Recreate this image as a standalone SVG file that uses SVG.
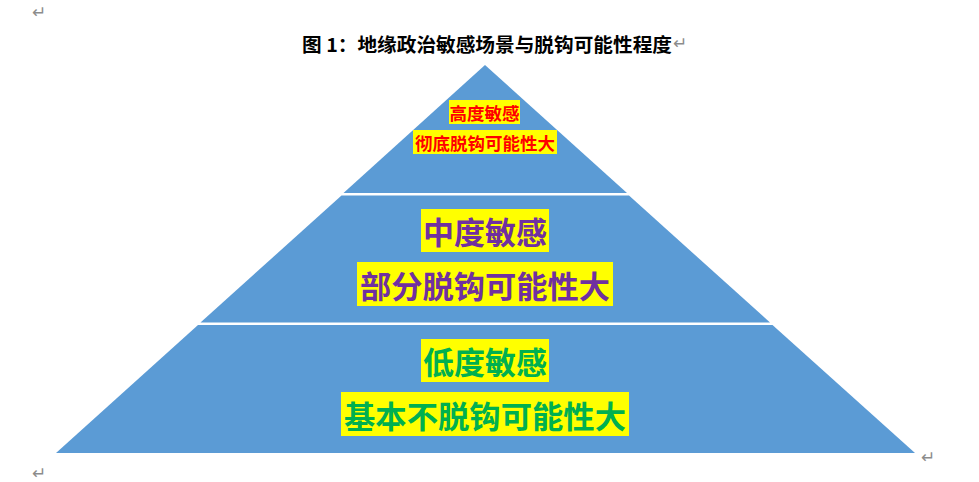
<svg xmlns="http://www.w3.org/2000/svg" width="979" height="482" viewBox="0 0 979 482">
  <style>
    .cjk { font-family: "Noto Sans CJK SC", "Noto Sans", sans-serif; font-weight: bold; text-anchor: middle; dominant-baseline: central; }
    .tier { fill: #5B9BD5; }
    .hl { fill: #FFFF00; }
    .mark { font-family: "DejaVu Sans", sans-serif; font-size: 17px; fill: #8C8C8C; dominant-baseline: central; }
    .top { fill: #FF0000; font-size: 17.5px; }
    .mid { fill: #7030A0; font-size: 31px; }
    .low { fill: #00B050; font-size: 31px; }
  </style>
  <rect width="979" height="482" fill="#FFFFFF"/>
  <g id="title">
    <text class="cjk" x="487" y="43" font-size="19" fill="#000000" textLength="370" lengthAdjust="spacingAndGlyphs">图 1：地缘政治敏感场景与脱钩可能性程度</text>
    <text class="mark" x="673" y="43">↵</text>
  </g>
  <g id="marks">
    <text class="mark" x="32" y="12">↵</text>
    <text class="mark" x="921" y="457">↵</text>
    <text class="mark" x="32" y="473" font-size="13">↵</text>
  </g>
  <g id="tier-high">
    <polygon class="tier" points="485,65 627,193 343.5,193"/>
    <rect class="hl" x="449" y="100" width="71" height="24"/>
    <text class="cjk top" x="484.5" y="112">高度敏感</text>
    <rect class="hl" x="413" y="130" width="144" height="24"/>
    <text class="cjk top" x="485" y="142" textLength="140" lengthAdjust="spacingAndGlyphs">彻底脱钩可能性大</text>
  </g>
  <g id="tier-mid">
    <polygon class="tier" points="341.5,195.5 629,195.5 770,322.5 200.5,322.5"/>
    <rect class="hl" x="421" y="209" width="128" height="43"/>
    <text class="cjk mid" x="485" y="230" textLength="124" lengthAdjust="spacingAndGlyphs">中度敏感</text>
    <rect class="hl" x="357" y="262" width="256" height="44"/>
    <text class="cjk mid" x="485" y="284" textLength="250" lengthAdjust="spacingAndGlyphs">部分脱钩可能性大</text>
  </g>
  <g id="tier-low">
    <polygon class="tier" points="198,325 772.5,325 915,453 56,453"/>
    <rect class="hl" x="421" y="339" width="128" height="43"/>
    <text class="cjk low" x="485" y="360" textLength="124" lengthAdjust="spacingAndGlyphs">低度敏感</text>
    <rect class="hl" x="341" y="392" width="288" height="44"/>
    <text class="cjk low" x="485" y="414" textLength="282" lengthAdjust="spacingAndGlyphs">基本不脱钩可能性大</text>
  </g>
  <g id="connectors"></g>
</svg>
